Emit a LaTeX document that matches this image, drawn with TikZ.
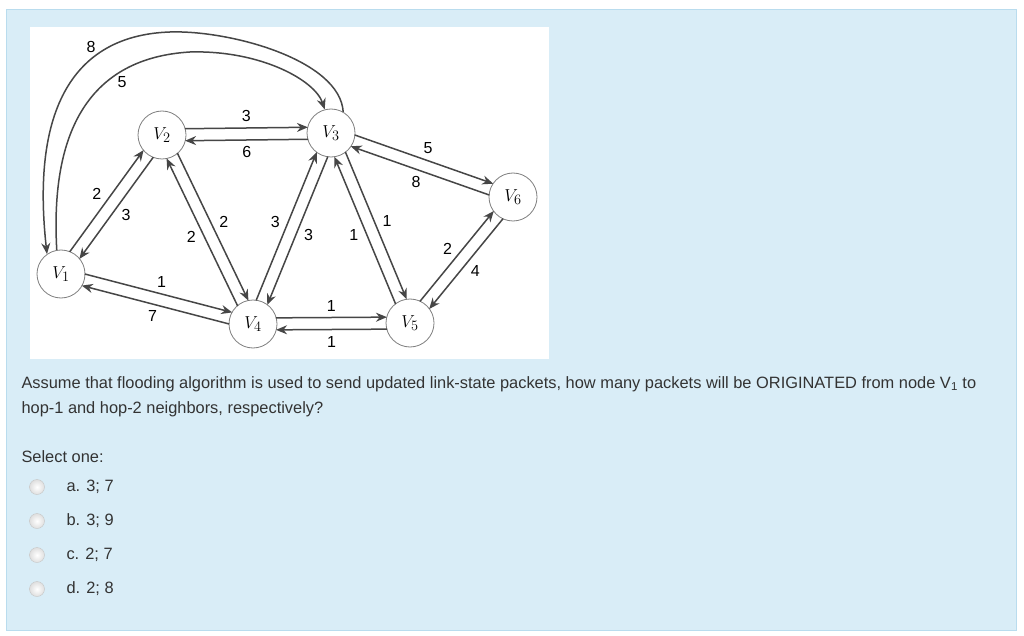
\documentclass[tikz,border=0pt]{standalone}
\usepackage{fontspec}
\setsansfont{Liberation Sans}
\usetikzlibrary{calc,arrows.meta}
\definecolor{panel}{RGB}{217,237,247}
\definecolor{pborder}{RGB}{185,220,238}
\definecolor{ln}{RGB}{70,70,70}
\definecolor{txt}{RGB}{51,51,51}
\tikzset{
  vtx/.style={circle,draw=ln!70,line width=0.8pt,fill=white,minimum size=48pt,inner sep=0pt,font=\fontsize{19}{19}\selectfont},
  arr/.style={draw=ln,line width=1.5pt,-{Stealth[length=11pt,width=9pt]},shorten >=23pt,shorten <=23pt},
  arc/.style={draw=ln,line width=1.5pt,-{Stealth[length=11pt,width=9pt]}},
  wt/.style={font=\sffamily\fontsize{16}{16}\selectfont,text=black},
  qt/.style={font=\sffamily\fontsize{16.4}{19}\selectfont,text=txt,anchor=west},
  radio/.style={circle,draw=gray!45,inner sep=0pt,minimum size=15pt,shading=radial,inner color=white,outer color=gray!25}
}
\newcommand\pr[4]{%
  \draw[arr] ($(#1)!6pt!90:(#2)$) -- ($(#2)!6pt!-90:(#1)$);
  \draw[arr] ($(#2)!6pt!90:(#1)$) -- ($(#1)!6pt!-90:(#2)$);
  \coordinate (m) at ($(#1)!0.5!(#2)$);
  \node[wt] at ($(m)!18pt!90:(#2)$) {#3};
  \node[wt] at ($(m)!18pt!-90:(#2)$) {#4};
}
\begin{document}
\begin{tikzpicture}[x=1pt,y=-1pt]
\useasboundingbox (0,0) rectangle (1024,636);
\fill[white] (0,0) rectangle (1024,636);
\draw[fill=panel,draw=pborder,line width=1pt] (6,10) rectangle (1016,630);
\fill[white] (30,27) rectangle (549,359);
\node[vtx] (v1) at (61,274) {$V_1$};
\node[vtx] (v2) at (162,135) {$V_2$};
\node[vtx] (v3) at (331,133) {$V_3$};
\node[vtx] (v4) at (253,324) {$V_4$};
\node[vtx] (v5) at (410,323) {$V_5$};
\node[vtx] (v6) at (513,197) {$V_6$};
\pr{v1}{v2}{2}{3}
\pr{v1}{v4}{1}{7}
\pr{v2}{v3}{3}{6}
\pr{v2}{v4}{2}{2}
\pr{v4}{v3}{3}{3}
\pr{v3}{v5}{1}{1}
\pr{v3}{v6}{5}{8}
\pr{v5}{v6}{2}{4}
\pr{v4}{v5}{1}{1}
\draw[arc] (v3.60) .. controls (340,60) and (230,30) .. (170,32) .. controls (80,35) and (30,100) .. (v1.125);
\draw[arc] (v1.100) .. controls (50,130) and (90,58) .. (190,52) .. controls (260,50) and (315,80) .. (v3.105);
\node[wt] at (91,47) {8};
\node[wt] at (122,82) {5};
\node[qt] at (18,384) {Assume that flooding algorithm is used to send updated link-state packets, how many packets will be ORIGINATED from node V\textsubscript{1} to};
\node[qt] at (18,409) {hop-1 and hop-2 neighbors, respectively?};
\node[qt] at (18,457) {Select one:};
\foreach \y/\t [count=\i] in {487/a. 3; 7,521/b. 3; 9,555/c. 2; 7,589/d. 2; 8}{
  \node[radio] (r\i) at (37,\y) {};
  \node[qt] (o\i) at (63,\y) {\t};
}
\end{tikzpicture}
\end{document}
